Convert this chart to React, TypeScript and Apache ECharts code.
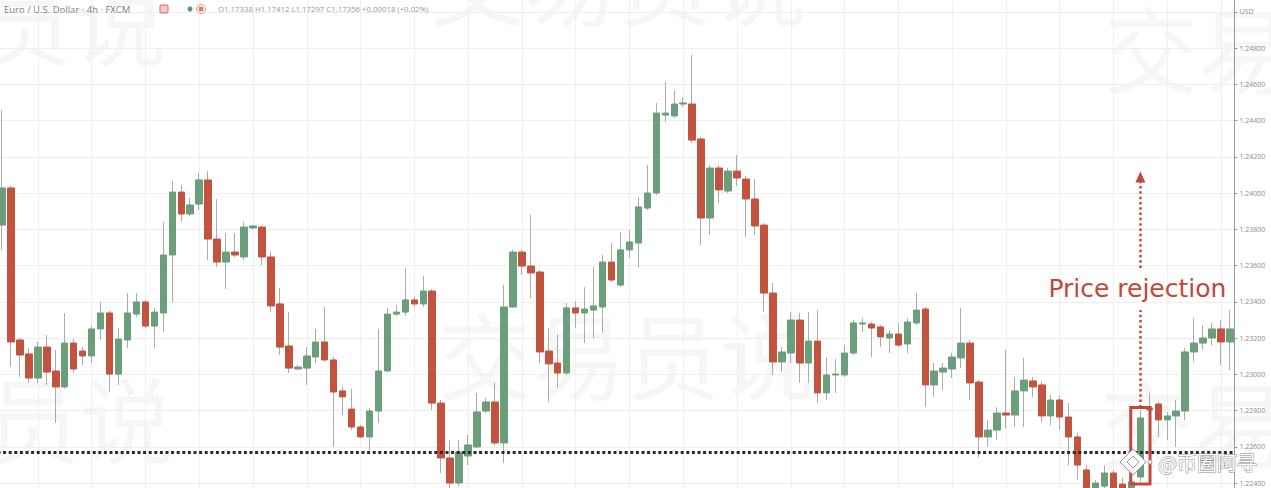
import React, { useEffect, useRef } from "react";
import * as echarts from "echarts";

// ---- Data (EUR/USD 4h candles) ----
const opens: number[] = [
  1.23823, 1.24028, 1.23189, 1.23112, 1.22979, 1.2315, 1.23018, 1.2293, 1.23172, 1.23128,
  1.23101, 1.2325, 1.23338, 1.23001, 1.23189, 1.23332, 1.23399, 1.23266, 1.23338, 1.23658,
  1.24005, 1.23884, 1.23939, 1.24072, 1.23746, 1.23619, 1.23674, 1.23647, 1.23807, 1.23812,
  1.23647, 1.23388, 1.23156, 1.23029, 1.23034, 1.23095, 1.23178, 1.23079, 1.22908, 1.22808,
  1.22709, 1.22654, 1.22797, 1.23018, 1.23332, 1.23343, 1.2341, 1.23388, 1.23459, 1.22841,
  1.22538, 1.224, 1.22549, 1.22599, 1.22797, 1.22847, 1.22621, 1.23371, 1.23674, 1.23597,
  1.23564, 1.23128, 1.23062, 1.23007, 1.23366, 1.23338, 1.23354, 1.23371, 1.23619, 1.23492,
  1.23686, 1.23724, 1.23917, 1.24, 1.2443, 1.24425, 1.24491, 1.24491, 1.24298, 1.23862,
  1.24138, 1.24011, 1.24121, 1.24077, 1.23967, 1.23823, 1.23448, 1.23068, 1.23117, 1.23299,
  1.23062, 1.23183, 1.22897, 1.22996, 1.22996, 1.23117, 1.23277, 1.23277, 1.23261, 1.232,
  1.23222, 1.23167, 1.23283, 1.2336, 1.22941, 1.23012, 1.23029, 1.2309, 1.23172, 1.22957,
  1.22654, 1.22692, 1.22786, 1.22775, 1.22908, 1.22963, 1.22941, 1.2277, 1.22858, 1.22764,
  1.22654, 1.22472, 1.22361, 1.22383, 1.22455, 1.22394, 1.22372, 1.22433, 1.22803, 1.22836,
  1.22748, 1.2277, 1.22797, 1.23123, 1.23172, 1.232, 1.2325, 1.23178,
];
const closes: number[] = [
  1.24028, 1.23178, 1.23106, 1.22979, 1.2315, 1.23012, 1.2293, 1.23172, 1.23029, 1.23101,
  1.2325, 1.23338, 1.23001, 1.23194, 1.23338, 1.23399, 1.23266, 1.23343, 1.23658, 1.24005,
  1.23884, 1.23934, 1.24072, 1.23746, 1.23619, 1.23674, 1.23658, 1.23812, 1.23818, 1.23647,
  1.23377, 1.2315, 1.23034, 1.2304, 1.23101, 1.23178, 1.23079, 1.22902, 1.22875, 1.22709,
  1.22654, 1.22797, 1.23018, 1.23332, 1.23343, 1.2341, 1.23388, 1.23459, 1.22841, 1.22538,
  1.224, 1.22571, 1.2261, 1.22792, 1.22847, 1.22621, 1.23371, 1.23674, 1.23597, 1.23559,
  1.23123, 1.23057, 1.23007, 1.23366, 1.23338, 1.2336, 1.23377, 1.23619, 1.2352, 1.23686,
  1.2373, 1.23923, 1.24, 1.24441, 1.24441, 1.24491, 1.24497, 1.24292, 1.23862, 1.24138,
  1.24017, 1.24121, 1.24083, 1.23967, 1.23818, 1.23448, 1.23068, 1.23123, 1.23299, 1.23062,
  1.23183, 1.22897, 1.22996, 1.23001, 1.23117, 1.23283, 1.23283, 1.23255, 1.23206, 1.23222,
  1.23161, 1.23288, 1.23354, 1.22941, 1.23018, 1.23034, 1.23095, 1.23172, 1.22952, 1.22654,
  1.22692, 1.22786, 1.22775, 1.22908, 1.22968, 1.2293, 1.2277, 1.22858, 1.22764, 1.22654,
  1.22499, 1.2235, 1.224, 1.22455, 1.22361, 1.22361, 1.22406, 1.22759, 1.22814, 1.22748,
  1.2277, 1.22797, 1.23123, 1.23172, 1.232, 1.2325, 1.23178, 1.2325,
];
const lows: number[] = [
  1.23686, 1.2304, 1.22985, 1.22952, 1.22952, 1.22941, 1.22731, 1.22919, 1.23007, 1.23051,
  1.23062, 1.23189, 1.22902, 1.22941, 1.23145, 1.23316, 1.23255, 1.23145, 1.23233, 1.23399,
  1.2384, 1.23873, 1.23906, 1.2363, 1.23592, 1.2347, 1.23647, 1.2363, 1.23801, 1.23603,
  1.23343, 1.23106, 1.23007, 1.23023, 1.22941, 1.23062, 1.23068, 1.22599, 1.22775, 1.22692,
  1.22648, 1.22582, 1.22731, 1.23012, 1.23321, 1.23321, 1.23371, 1.23371, 1.22803, 1.22455,
  1.22372, 1.22383, 1.22499, 1.22593, 1.22786, 1.2261, 1.2251, 1.23366, 1.23548, 1.23421,
  1.23062, 1.22847, 1.22924, 1.22996, 1.23255, 1.23172, 1.232, 1.23228, 1.23509, 1.23481,
  1.23641, 1.23586, 1.23906, 1.23989, 1.24392, 1.24414, 1.24474, 1.24276, 1.23713, 1.23768,
  1.23945, 1.24, 1.24039, 1.23757, 1.23768, 1.23343, 1.22996, 1.23012, 1.23062, 1.22952,
  1.22952, 1.22841, 1.22858, 1.22897, 1.22985, 1.23106, 1.23233, 1.23095, 1.2315, 1.23117,
  1.2315, 1.23117, 1.23272, 1.22819, 1.22875, 1.22913, 1.22979, 1.23034, 1.22858, 1.22543,
  1.22599, 1.22637, 1.22703, 1.22709, 1.22709, 1.22875, 1.22737, 1.2272, 1.22692, 1.22499,
  1.22417, 1.22334, 1.22334, 1.22361, 1.22334, 1.22334, 1.2235, 1.22406, 1.22654, 1.22654,
  1.22637, 1.22599, 1.22748, 1.23068, 1.23134, 1.23161, 1.23051, 1.23023,
];
const highs: number[] = [
  1.24458, 1.24039, 1.232, 1.23145, 1.23178, 1.23217, 1.23134, 1.23338, 1.23194, 1.2315,
  1.23266, 1.23399, 1.23349, 1.23255, 1.23448, 1.23448, 1.2341, 1.23366, 1.2384, 1.24066,
  1.24044, 1.23972, 1.2411, 1.24121, 1.23967, 1.23779, 1.23779, 1.2384, 1.23823, 1.23818,
  1.23674, 1.23476, 1.23343, 1.23051, 1.2315, 1.2325, 1.23371, 1.23095, 1.2293, 1.22919,
  1.2272, 1.22814, 1.2325, 1.23366, 1.23382, 1.23586, 1.23426, 1.23542, 1.2347, 1.22858,
  1.22637, 1.22637, 1.22665, 1.22897, 1.22869, 1.22952, 1.23492, 1.23686, 1.23686, 1.23879,
  1.23575, 1.23255, 1.23217, 1.23393, 1.23399, 1.23481, 1.23592, 1.23658, 1.23724, 1.23785,
  1.23796, 1.23978, 1.24154, 1.24497, 1.24612, 1.24568, 1.2453, 1.24761, 1.24309, 1.24154,
  1.24154, 1.24138, 1.2421, 1.24094, 1.24077, 1.23834, 1.23503, 1.2315, 1.23343, 1.23338,
  1.23343, 1.23354, 1.23095, 1.23084, 1.23161, 1.23299, 1.2331, 1.23288, 1.23272, 1.23244,
  1.23283, 1.2331, 1.23448, 1.23371, 1.23062, 1.23062, 1.23117, 1.23366, 1.23189, 1.22968,
  1.22748, 1.22819, 1.23134, 1.22985, 1.2309, 1.22985, 1.22963, 1.22886, 1.2288, 1.22841,
  1.22676, 1.22499, 1.22417, 1.22499, 1.22472, 1.22428, 1.22428, 1.22803, 1.22897, 1.22847,
  1.22792, 1.22858, 1.23145, 1.2331, 1.23272, 1.23283, 1.23299, 1.23354,
];
const categories: string[] = opens.map((_, i) => String(i));

// Axis
const yMin = 1.222;
const yMax = 1.252;
const yStep = 0.002;
const topTickLabel = "USD";

// Annotations
const supportLevel = 1.22571;
const rejectionIndex = 127;
const rejectionBox = [1.22817, 1.22394]; // top, bottom
const arrowLower = [1.22817, 1.23354];
const arrowUpper = [1.23586, 1.24088];
const annotationLevel = 1.23474;
const annotationText = "Price rejection";

const titleText = "Euro / U.S. Dollar · 4h · FXCM";
const ohlcText = "O1.17338 H1.17412 L1.17297 C1.17356 +0.00018 (+0.02%)";
const watermark = "交易员说";
const credit = "@币圈阿寻";

const UP = "#6b9e7b";
const DOWN = "#c2533f";
const WICK = "#ababab";
const RED = "#c2483a";

export default function App() {
  const ref = useRef<HTMLDivElement>(null);
  useEffect(() => {
    const chart = echarts.init(ref.current!, null, { renderer: "svg" });
    const wickData = opens.map((o, i) => [o, closes[i], lows[i], highs[i]]);
    const bodyData = opens.map((o, i) => [o, closes[i], Math.min(o, closes[i]), Math.max(o, closes[i])]);
    const cat = categories[rejectionIndex];
    const wmStyle = { fill: "rgba(0,0,0,0.035)", fontSize: 94, fontFamily: "Noto Sans CJK SC", align: "left", verticalAlign: "middle" };
    const redDots = { color: RED, type: [2.5, 2.8], width: 2.5 };
    chart.setOption({
      animation: false,
      backgroundColor: "#ffffff",
      grid: { left: -2.5, right: 36.5, top: -24.5, bottom: -31.25, containLabel: false, outerBoundsMode: "none" },
      xAxis: {
        type: "category",
        data: categories,
        boundaryGap: true,
        axisLine: { show: false },
        axisTick: { show: false },
        axisLabel: { show: false },
        splitLine: {
          show: true,
          alignWithLabel: true,
          interval: (i: number) => i % 6 === 4,
          lineStyle: { color: "#efefef", width: 1 },
        },
      },
      yAxis: {
        type: "value",
        position: "right",
        min: yMin,
        max: yMax,
        interval: yStep,
        axisLine: { show: true, lineStyle: { color: "#9a9a9a", width: 1 } },
        axisTick: { show: true, length: 3, lineStyle: { color: "#9a9a9a" } },
        axisLabel: {
          margin: 5,
          fontSize: 7,
          color: "#8c8c8c",
          fontFamily: "Open Sans",
          formatter: (v: number) => (Math.abs(v - 1.25) < 1e-7 ? topTickLabel : v.toFixed(5)),
        },
        splitLine: { show: true, lineStyle: { color: "#efefef", width: 1 } },
      },
      graphic: [
        { type: "text", z: -5, x: 430, y: -22, style: { ...wmStyle, text: watermark } },
        { type: "text", z: -5, x: 438, y: 352, style: { ...wmStyle, text: watermark } },
        { type: "text", z: -5, x: -22, y: 18, style: { ...wmStyle, text: "员说" } },
        { type: "text", z: -5, x: -14, y: 416, style: { ...wmStyle, text: "员说" } },
        { type: "text", z: -5, x: 1104, y: 46, style: { ...wmStyle, text: "交易" } },
        { type: "text", z: -5, x: 1100, y: 420, style: { ...wmStyle, text: "交易" } },
        { type: "text", z: 100, x: 4, y: 9, style: { text: titleText, fill: "#7f7f7f", fontSize: 9.5, fontFamily: "Open Sans", align: "left", verticalAlign: "middle" } },
        { type: "rect", z: 100, shape: { x: 160, y: 5, width: 8, height: 8, r: 1 }, style: { fill: "#f2c9c3", stroke: "#d66a5c", lineWidth: 1 } },
        { type: "circle", z: 100, shape: { cx: 190, cy: 9, r: 2.5 }, style: { fill: "#5d9a73" } },
        { type: "circle", z: 100, shape: { cx: 201, cy: 9, r: 4.5 }, style: { fill: "#fbe3df", stroke: "#e3a59b", lineWidth: 1 } },
        { type: "rect", z: 100, shape: { x: 199, y: 7, width: 4, height: 4 }, style: { fill: "#d9766a" } },
        { type: "text", z: 100, x: 218, y: 9, style: { text: ohlcText, fill: "#9a9a9a", fontSize: 7.8, fontFamily: "Open Sans", align: "left", verticalAlign: "middle" } },
        { type: "polygon", z: 100, shape: { points: [[1133, 449], [1146, 462], [1133, 475], [1120, 462]] }, style: { fill: "#ffffff", stroke: "#9a9a9a", lineWidth: 1 } },
        { type: "polygon", z: 100, shape: { points: [[1133, 456], [1139, 462], [1133, 468], [1127, 462]] }, style: { fill: "#ffffff", stroke: "#9a9a9a", lineWidth: 1 } },
        { type: "circle", z: 100, shape: { cx: 1150, cy: 462, r: 2 }, style: { fill: "#ffffff", stroke: "#9a9a9a", lineWidth: 1 } },
        { type: "text", z: 100, x: 1158, y: 462, style: { text: credit, fill: "#ffffff", stroke: "#8a8a8a", lineWidth: 1, fontSize: 20, fontFamily: "Noto Sans CJK SC", align: "left", verticalAlign: "middle" } },
      ],
      series: [
        {
          type: "candlestick",
          name: "wicks",
          data: wickData,
          barWidth: 1,
          silent: true,
          itemStyle: { color: WICK, color0: WICK, borderColor: WICK, borderColor0: WICK, borderWidth: 1 },
        },
        {
          type: "candlestick",
          name: "bodies",
          data: bodyData,
          barWidth: 7,
          silent: true,
          itemStyle: { color: UP, color0: DOWN, borderColor: UP, borderColor0: DOWN, borderWidth: 1 },
          markLine: {
            silent: true,
            animation: false,
            precision: 5,
            symbol: ["none", "none"],
            label: { show: false },
            data: [
              [
                { coord: [cat, arrowLower[0]], lineStyle: redDots },
                { coord: [cat, arrowLower[1]] },
              ],
              [
                { coord: [cat, arrowUpper[0]], lineStyle: redDots },
                { coord: [cat, arrowUpper[1]], symbol: "triangle", symbolSize: [10, 11] },
              ],
            ],
          },
          markPoint: {
            silent: true,
            animation: false,
            data: [
              {
                coord: [cat, annotationLevel],
                symbol: "rect",
                symbolSize: 1,
                itemStyle: { color: "transparent" },
                label: {
                  show: true,
                  position: "inside",
                  offset: [-3, 0],
                  formatter: annotationText,
                  fontSize: 25,
                  color: RED,
                  fontFamily: "DejaVu Sans",
                },
              },
            ],
          },
        },
        {
          type: "custom",
          name: "box",
          silent: true,
          z: 5,
          data: [[rejectionIndex, rejectionBox[0], rejectionBox[1]]],
          encode: { x: 0, y: [1, 2] },
          renderItem: (_params: any, api: any) => {
            const a = api.coord([api.value(0), api.value(1)]);
            const b = api.coord([api.value(0), api.value(2)]);
            const w = api.size([1, 0])[0] * 2.15;
            return {
              type: "rect",
              shape: { x: a[0] - w / 2, y: a[1], width: w, height: b[1] - a[1] },
              style: { fill: "none", stroke: RED, lineWidth: 3 },
            };
          },
        },
        {
          type: "line",
          name: "support",
          data: [],
          silent: true,
          z: 4,
          markLine: {
            silent: true,
            animation: false,
            precision: 5,
            symbol: ["none", "none"],
            label: { show: false },
            data: [{ yAxis: supportLevel, lineStyle: { color: "#2b2b2b", type: [3, 2.6], width: 3 } }],
          },
        },
      ],
    });
    return () => chart.dispose();
  }, []);
  return (
    <div
      ref={ref}
      style={{ position: "fixed", left: 0, top: 0, width: 1271, height: 488, background: "#fff" }}
    />
  );
}
